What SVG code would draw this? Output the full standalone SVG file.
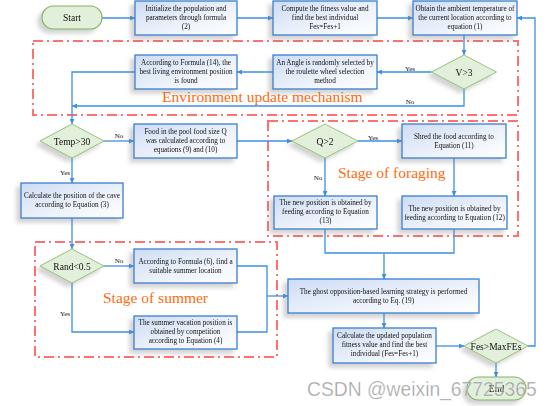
<svg xmlns="http://www.w3.org/2000/svg" width="554" height="406" viewBox="0 0 554 406">
<defs>
<linearGradient id="bg" x1="0" y1="0" x2="1" y2="1">
<stop offset="0" stop-color="#cddcf4"/>
<stop offset="0.6" stop-color="#eef3fb"/>
<stop offset="1" stop-color="#ffffff"/>
</linearGradient>
<filter id="sh" x="-20%" y="-20%" width="140%" height="160%">
<feGaussianBlur in="SourceAlpha" stdDeviation="2"/>
<feOffset dx="-4" dy="4" result="b"/>
<feFlood flood-color="#808080" flood-opacity="0.35"/>
<feComposite in2="b" operator="in"/>
<feMerge><feMergeNode/><feMergeNode in="SourceGraphic"/></feMerge>
</filter>
<marker id="ar" viewBox="0 0 6 6" refX="6" refY="3" markerWidth="5" markerHeight="5" orient="auto" markerUnits="userSpaceOnUse">
<path d="M0,0 L6,3 L0,6 z" fill="#3d8fe6"/>
</marker>
<style>
.box{fill:url(#bg);stroke:#3a7fcf;stroke-width:1.3}
.dia{fill:#e2efda;stroke:#97c37c;stroke-width:1}
.term{fill:#e2efda;stroke:#7fb561;stroke-width:1.2}
.t{font-family:"Liberation Serif","Times New Roman",serif;font-size:7.2px;fill:#111;text-anchor:middle}
.d{font-family:"Liberation Serif","Times New Roman",serif;font-size:9.5px;fill:#111;text-anchor:middle}
.l{font-family:"Liberation Serif","Times New Roman",serif;font-size:7px;fill:#111;text-anchor:middle}
.c{fill:none;stroke:#3d8fe6;stroke-width:1.3}
.ca{fill:none;stroke:#3d8fe6;stroke-width:1.3;marker-end:url(#ar)}
.zone{fill:none;stroke:#ff7070;stroke-width:2;stroke-dasharray:10 4 2 4}
.zl{font-family:"Liberation Serif","Times New Roman",serif;font-size:15.5px;fill:#ff6a10}
</style>
</defs>
<rect width="554" height="406" fill="#ffffff"/>

<g id="zones">
<rect class="zone" x="33" y="41" width="485" height="74"/>
<rect class="zone" x="268" y="121" width="250" height="115"/>
<rect class="zone" x="35" y="242" width="242" height="115"/>
<text class="zl" x="162" y="102">Environment update mechanism</text>
<text class="zl" x="338" y="178">Stage of foraging</text>
<text class="zl" x="103" y="303">Stage of summer</text>
</g>

<g id="connectors">
<path class="ca" d="M102 18 H135"/>
<path class="ca" d="M237 18 H273"/>
<path class="ca" d="M377 18 H413"/>
<path class="ca" d="M464 35 V55"/>
<path class="ca" d="M431.5 72 H377"/>
<path class="ca" d="M273 72 H237"/>
<path class="ca" d="M135 72 H72 V124"/>
<path class="ca" d="M464 89 V106 H72"/>
<path class="ca" d="M104 141 H134"/>
<path class="ca" d="M237 141 H292"/>
<path class="ca" d="M72 158 V183"/>
<path class="ca" d="M72 218 V249"/>
<path class="ca" d="M358 141 H402"/>
<path class="ca" d="M325 158 V196"/>
<path class="ca" d="M454 158 V196"/>
<path class="c" d="M325 229 V253 H454 V229"/>
<path class="ca" d="M384 253 V279"/>
<path class="ca" d="M104 266 H134"/>
<path class="ca" d="M72 283 V332 H134"/>
<path class="c" d="M237 266 H267 V332 H237"/>
<path class="ca" d="M267 296 H288"/>
<path class="ca" d="M384 313 V328"/>
<path class="ca" d="M436 346 H464"/>
<path class="ca" d="M496 363 V377"/>
<path class="ca" d="M528 346 H535 V18 H517"/>
<text class="l" x="410" y="71">Yes</text>
<text class="l" x="410" y="104">No</text>
<text class="l" x="119" y="138">No</text>
<text class="l" x="65" y="175">Yes</text>
<text class="l" x="373" y="140">Yes</text>
<text class="l" x="318" y="180">No</text>
<text class="l" x="119" y="263">No</text>
<text class="l" x="65" y="316">Yes</text>
</g>

<g id="start" filter="url(#sh)">
<rect class="term" x="42" y="6" width="60" height="23" rx="11.5"/>
<text class="d" x="72" y="21">Start</text>
</g>
<g id="init" filter="url(#sh)">
<rect class="box" x="135" y="1" width="102" height="34"/>
<text class="t" x="186" y="10.5">Initialize the population and</text>
<text class="t" x="186" y="19.5">parameters through formula</text>
<text class="t" x="186" y="28.5">(2)</text>
</g>
<g id="compute" filter="url(#sh)">
<rect class="box" x="273" y="1" width="104" height="34"/>
<text class="t" x="325" y="10.5">Compute the fitness value and</text>
<text class="t" x="325" y="19.5">find the best individual</text>
<text class="t" x="325" y="28.5">Fes=Fes+1</text>
</g>
<g id="obtain" filter="url(#sh)">
<rect class="box" x="413" y="1" width="104" height="34"/>
<text class="t" x="465" y="10.5">Obtain the ambient temperature of</text>
<text class="t" x="465" y="19.5">the current location according to</text>
<text class="t" x="465" y="28.5">equation (1)</text>
</g>
<g id="v3" filter="url(#sh)">
<polygon class="dia" points="464,55 496.5,72 464,89 431.5,72"/>
<text class="d" x="464" y="75.5">V&gt;3</text>
</g>
<g id="angle" filter="url(#sh)">
<rect class="box" x="273" y="55" width="104" height="34"/>
<text class="t" x="325" y="64.5">An Angle is randomly selected by</text>
<text class="t" x="325" y="73.5">the roulette wheel selection</text>
<text class="t" x="325" y="82.5">method</text>
</g>
<g id="formula14" filter="url(#sh)">
<rect class="box" x="135" y="55" width="102" height="34"/>
<text class="t" x="186" y="64.5">According to Formula (14), the</text>
<text class="t" x="186" y="73.5">best living environment position</text>
<text class="t" x="186" y="82.5">is found</text>
</g>
<g id="temp" filter="url(#sh)">
<polygon class="dia" points="72,124 104,141 72,158 40,141"/>
<text class="d" x="72" y="144.5">Temp&gt;30</text>
</g>
<g id="food" filter="url(#sh)">
<rect class="box" x="134" y="124" width="103" height="34"/>
<text class="t" x="185.5" y="133.5">Food in the pool food size Q</text>
<text class="t" x="185.5" y="142.5">was calculated according to</text>
<text class="t" x="185.5" y="151.5">equations (9) and (10)</text>
</g>
<g id="cave" filter="url(#sh)">
<rect class="box" x="21" y="183" width="102" height="35"/>
<text class="t" x="72" y="198">Calculate the position of the cave</text>
<text class="t" x="72" y="207">according to Equation (3)</text>
</g>
<g id="q2" filter="url(#sh)">
<polygon class="dia" points="325,124 358,141 325,158 292,141"/>
<text class="d" x="325" y="144.5">Q&gt;2</text>
</g>
<g id="shred" filter="url(#sh)">
<rect class="box" x="402" y="124" width="104" height="34"/>
<text class="t" x="454" y="139">Shred the food according to</text>
<text class="t" x="454" y="148">Equation (11)</text>
</g>
<g id="eq13" filter="url(#sh)">
<rect class="box" x="274" y="196" width="103" height="33"/>
<text class="t" x="325.5" y="205">The new position is obtained by</text>
<text class="t" x="325.5" y="214">feeding according to Equation</text>
<text class="t" x="325.5" y="223">(13)</text>
</g>
<g id="eq12" filter="url(#sh)">
<rect class="box" x="402" y="196" width="105" height="33"/>
<text class="t" x="454.5" y="210.5">The new position is obtained by</text>
<text class="t" x="454.5" y="219.5">feeding according to Equation (12)</text>
</g>
<g id="rand" filter="url(#sh)">
<polygon class="dia" points="72,249 104,266 72,283 40,266"/>
<text class="d" x="72" y="269.5">Rand&lt;0.5</text>
</g>
<g id="formula6" filter="url(#sh)">
<rect class="box" x="134" y="249" width="103" height="34"/>
<text class="t" x="185.5" y="264">According to Formula (6), find a</text>
<text class="t" x="185.5" y="273">suitable summer location</text>
</g>
<g id="summer" filter="url(#sh)">
<rect class="box" x="134" y="316" width="103" height="33"/>
<text class="t" x="185.5" y="325">The summer vacation position is</text>
<text class="t" x="185.5" y="334">obtained by competition</text>
<text class="t" x="185.5" y="343">according to Equation (4)</text>
</g>
<g id="ghost" filter="url(#sh)">
<rect class="box" x="288" y="279" width="191" height="34"/>
<text class="t" x="383.5" y="294">The ghost opposition-based learning strategy is performed</text>
<text class="t" x="383.5" y="303">according to Eq. (19)</text>
</g>
<g id="calc" filter="url(#sh)">
<rect class="box" x="333" y="328" width="103" height="35"/>
<text class="t" x="384.5" y="338">Calculate the updated population</text>
<text class="t" x="384.5" y="347">fitness value and find the best</text>
<text class="t" x="384.5" y="356">individual (Fes=Fes+1)</text>
</g>
<g id="fes" filter="url(#sh)">
<polygon class="dia" points="496,329 528,346 496,363 464,346"/>
<text class="d" x="496" y="349.5">Fes&gt;MaxFEs</text>
</g>
<g id="end" filter="url(#sh)">
<rect class="term" x="467" y="377" width="59" height="23" rx="11.5"/>
<text class="d" x="496.5" y="392">End</text>
</g>

<text x="307" y="396" font-family="Liberation Sans, Arial, sans-serif" font-size="19.3" fill="#8a8a8a" fill-opacity="0.8" stroke="#ffffff" stroke-opacity="0.5" stroke-width="0.6">CSDN @weixin_67725365</text>
</svg>
